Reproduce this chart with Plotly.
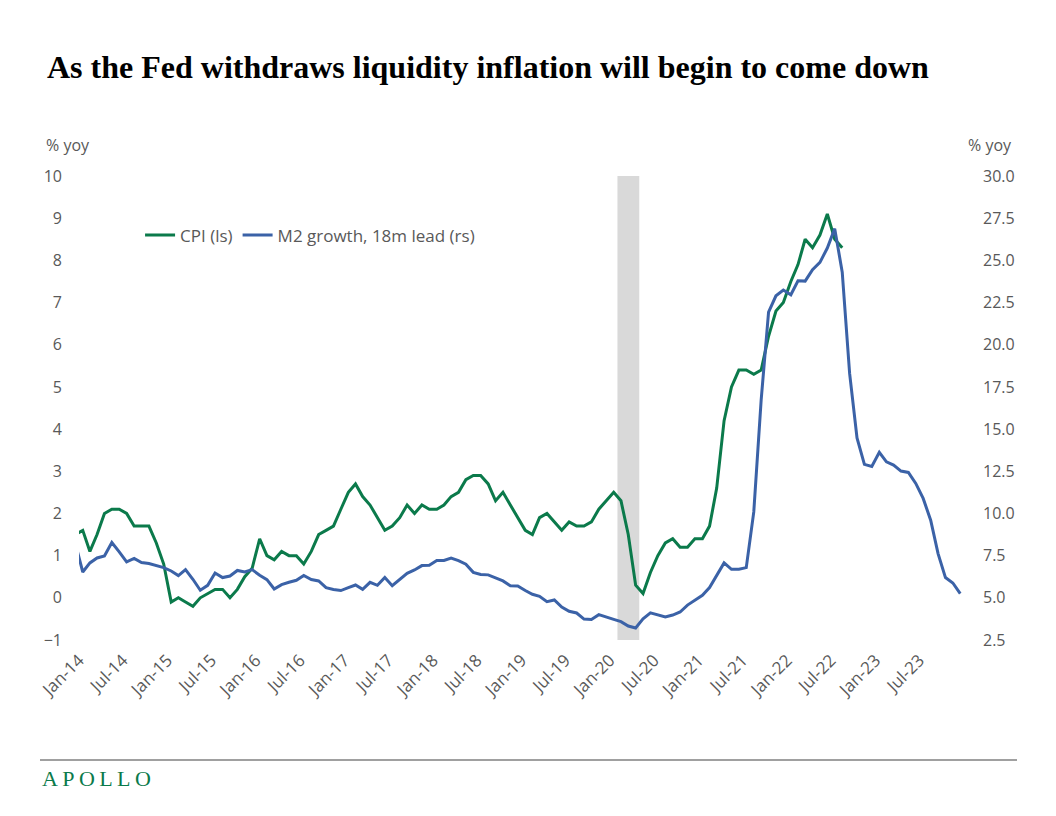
import pandas as pd
import plotly.graph_objects as go

# ---------------- data ----------------
title_text = "As the Fed withdraws liquidity inflation will begin to come down"

cpi_start = "2013-12-01"
cpi_values = [
    1.5,
    1.6, 1.1, 1.5, 2.0, 2.1, 2.1, 2.0, 1.7, 1.7, 1.7, 1.3, 0.8,
    -0.1, 0.0, -0.1, -0.2, 0.0, 0.1, 0.2, 0.2, 0.0, 0.2, 0.5, 0.7,
    1.4, 1.0, 0.9, 1.1, 1.0, 1.0, 0.8, 1.1, 1.5, 1.6, 1.7, 2.1,
    2.5, 2.7, 2.4, 2.2, 1.9, 1.6, 1.7, 1.9, 2.2, 2.0, 2.2, 2.1,
    2.1, 2.2, 2.4, 2.5, 2.8, 2.9, 2.9, 2.7, 2.3, 2.5, 2.2, 1.9,
    1.6, 1.5, 1.9, 2.0, 1.8, 1.6, 1.8, 1.7, 1.7, 1.8, 2.1, 2.3,
    2.5, 2.3, 1.5, 0.3, 0.1, 0.6, 1.0, 1.3, 1.4, 1.2, 1.2, 1.4,
    1.4, 1.7, 2.6, 4.2, 5.0, 5.4, 5.4, 5.3, 5.4, 6.2, 6.8, 7.0,
    7.5, 7.9, 8.5, 8.3, 8.6, 9.1, 8.5, 8.3,
]

m2_start = "2013-12-01"
m2_values = [
    8.25,
    6.53, 7.07, 7.36, 7.48, 8.28, 7.72, 7.13, 7.33, 7.09, 7.03, 6.89, 6.79,
    6.59, 6.32, 6.67, 6.10, 5.45, 5.74, 6.47, 6.20, 6.29, 6.62, 6.53, 6.67,
    6.34, 6.08, 5.52, 5.78, 5.92, 6.04, 6.32, 6.08, 6.00, 5.60, 5.49, 5.43,
    5.60, 5.76, 5.50, 5.92, 5.74, 6.20, 5.72, 6.06, 6.45, 6.65, 6.91, 6.93,
    7.21, 7.21, 7.36, 7.20, 6.99, 6.51, 6.38, 6.36, 6.20, 6.00, 5.72, 5.70,
    5.43, 5.21, 5.09, 4.77, 4.87, 4.45, 4.20, 4.10, 3.74, 3.72, 4.00, 3.84,
    3.72, 3.59, 3.33, 3.21, 3.75, 4.11, 3.99, 3.86, 3.98, 4.16, 4.57, 4.85,
    5.15, 5.61, 6.34, 7.07, 6.69, 6.69, 6.79, 10.09, 16.73, 21.93, 22.90, 23.24,
    22.96, 23.79, 23.77, 24.45, 24.88, 25.73, 26.88, 24.30, 18.30, 14.47, 12.91, 12.79,
    13.62, 13.06, 12.87, 12.51, 12.43, 11.78, 10.89, 9.60, 7.62, 6.20, 5.88, 5.25,
]

recession = ["2020-02-01", "2020-05-01"]

tick_dates = pd.date_range("2014-01-01", "2024-01-01", freq="6MS")
tick_labels = ["Jan-14", "Jul-14", "Jan-15", "Jul-15", "Jan-16", "Jul-16", "Jan-17", "Jul-17",
               "Jan-18", "Jul-18", "Jan-19", "Jul-19", "Jan-20", "Jul-20", "Jan-21", "Jul-21",
               "Jan-22", "Jul-22", "Jan-23", "Jul-23"]

left_ticks = list(range(-1, 11))
right_ticks = [2.5, 5.0, 7.5, 10.0, 12.5, 15.0, 17.5, 20.0, 22.5, 25.0, 27.5, 30.0]

# ---------------- styling ----------------
GREEN = "#0b7a4b"
BLUE = "#3b62a7"
GREY_TXT = "#595959"
FONT = "Open Sans"


def mid_months(start, n):
    months = pd.date_range(start, periods=n + 1, freq="MS")
    return [months[i] + (months[i + 1] - months[i]) / 2 for i in range(n)]


cpi_x = mid_months(cpi_start, len(cpi_values))
m2_x = mid_months(m2_start, len(m2_values))

fig = go.Figure()

fig.add_trace(go.Scatter(x=cpi_x, y=cpi_values, name="CPI (ls)", mode="lines",
                         line=dict(color=GREEN, width=3), yaxis="y"))
fig.add_trace(go.Scatter(x=m2_x, y=m2_values, name="M2 growth, 18m lead (rs)", mode="lines",
                         line=dict(color=BLUE, width=3), yaxis="y2"))

x_range = [tick_dates[0], tick_dates[-1]]

fig.update_layout(
    width=1056, height=816,
    margin=dict(l=79, r=92, t=176, b=176, pad=0),
    paper_bgcolor="white", plot_bgcolor="white",
    font=dict(family=FONT, size=16, color=GREY_TXT),
    title=dict(text=title_text, x=47 / 1056, xanchor="left", xref="container",
               y=1 - 67 / 816, yanchor="middle", yref="container",
               font=dict(family="Liberation Serif", size=32, color="black", weight="bold")),
    showlegend=True,
    legend=dict(orientation="h", x=0.069, xanchor="left", y=0.872, yanchor="middle",
                bgcolor="rgba(0,0,0,0)", font=dict(size=17, color=GREY_TXT),
                itemwidth=30),
    xaxis=dict(type="date", range=x_range, showgrid=False, zeroline=False, showline=False,
               tickmode="array", tickvals=list(tick_dates[:-1]), ticktext=tick_labels,
               tickangle=-45, ticks="", ticklabelstandoff=6,
               tickfont=dict(size=17, color=GREY_TXT)),
    xaxis2=dict(type="date", range=x_range, overlaying="x", anchor="free", position=1 / 11,
                showgrid=False, zeroline=False, showline=True, linecolor="#d9d9d9", linewidth=1,
                tickmode="array", tickvals=list(tick_dates), ticks="outside", ticklen=6,
                tickcolor="#d9d9d9", showticklabels=False),
    yaxis=dict(range=[-1, 10], tickvals=left_ticks, showgrid=False, zeroline=False,
               showline=False, ticks="", ticklabelstandoff=16,
               tickfont=dict(size=16, color=GREY_TXT)),
    yaxis2=dict(range=[2.5, 30], tickvals=right_ticks, tickformat=".1f", overlaying="y",
                side="right", showgrid=False, zeroline=False, showline=False, ticks="",
                ticklabelstandoff=18, tickfont=dict(size=16, color=GREY_TXT)),
)

# recession band
fig.add_shape(type="rect", xref="x", yref="y", x0=recession[0], x1=recession[1], y0=-1, y1=10,
              fillcolor="#d9d9d9", line=dict(width=0), layer="below")

# axis unit labels
fig.add_annotation(text="% yoy", xref="paper", yref="paper", x=(44 - 79) / 885, y=(640 - 145) / 464,
                   xanchor="left", yanchor="middle", showarrow=False,
                   font=dict(size=16, color=GREY_TXT))
fig.add_annotation(text="% yoy", xref="paper", yref="paper", x=(966 - 79) / 885, y=(640 - 145) / 464,
                   xanchor="left", yanchor="middle", showarrow=False,
                   font=dict(size=16, color=GREY_TXT))

# footer
fig.add_shape(type="line", xref="paper", yref="paper", x0=(40 - 79) / 885, x1=(1017 - 79) / 885,
              y0=(640 - 760) / 464, y1=(640 - 760) / 464, line=dict(color="#808080", width=1.5))
fig.add_annotation(text="A\u2009P\u2009O\u2009L\u2009L\u2009O", xref="paper", yref="paper",
                   x=(40 - 79) / 885, y=(640 - 778) / 464, xanchor="left", yanchor="middle",
                   showarrow=False,
                   font=dict(family="Liberation Serif", size=22, color="#0b7a4b"))

fig.write_html("out.html")
